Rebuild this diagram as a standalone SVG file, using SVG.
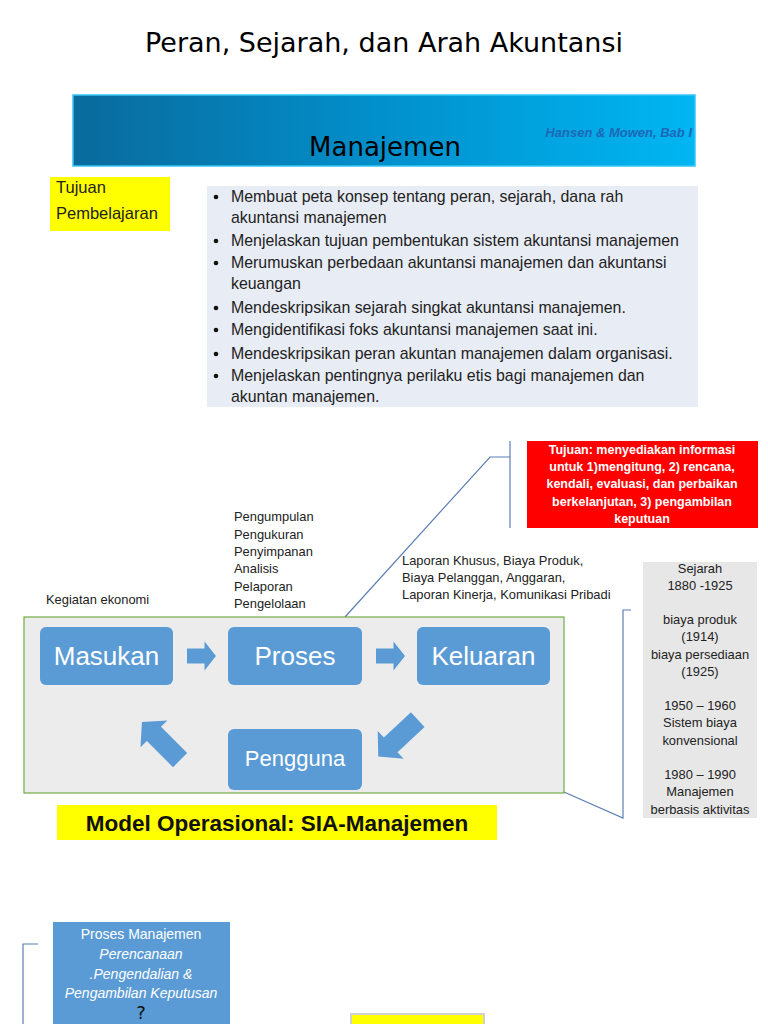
<svg xmlns="http://www.w3.org/2000/svg" width="768" height="1024" viewBox="0 0 768 1024">
<defs>
<linearGradient id="bannerGrad" x1="0" y1="0" x2="1" y2="0">
<stop offset="0" stop-color="#0a6a9c"/>
<stop offset="0.5" stop-color="#0290cc"/>
<stop offset="1" stop-color="#00b6f2"/>
</linearGradient>
<polygon id="harrow" points="-14.5,-7.5 3,-7.5 3,-14.5 14.5,0 3,14.5 3,7.5 -14.5,7.5"/>
<polygon id="darrow" points="-27,-10 10,-10 10,-19 27,0 10,19 10,10 -27,10"/>
</defs>
<style>
.t{font-family:"Liberation Sans",Arial,sans-serif;fill:#222}
.comic{font-family:"DejaVu Sans","Liberation Sans",sans-serif;fill:#000}
.box{fill:#5b9bd5}
.boxt{font-family:"Liberation Sans",Arial,sans-serif;fill:#fff;font-size:26px;text-anchor:middle}
.arr{fill:#5b9bd5}
.conn{fill:none;stroke:#5b7fb5;stroke-width:1.2}
.yel{fill:#ffff00}
</style>
<rect width="768" height="1024" fill="#fff"/>

<g id="title">
<text class="comic" x="384" y="52" font-size="27" text-anchor="middle">Peran, Sejarah, dan Arah Akuntansi</text>
</g>

<g id="banner">
<rect x="73" y="95" width="622" height="71" fill="url(#bannerGrad)" stroke="#33c6f5" stroke-width="1.5"/>
<text class="comic" x="385" y="156" font-size="26" text-anchor="middle">Manajemen</text>
<text x="692" y="137" font-family="Liberation Sans,Arial,sans-serif" font-size="13" font-weight="bold" font-style="italic" fill="#1f68b8" text-anchor="end">Hansen &amp; Mowen, Bab I</text>
</g>

<g id="tujuan">
<rect class="yel" x="50" y="177" width="120" height="54"/>
<text class="t" x="56" y="193" font-size="16.5" fill="#111">Tujuan</text>
<text class="t" x="56" y="219" font-size="16.5" fill="#111">Pembelajaran</text>
</g>

<g id="objectives">
<rect x="207" y="186" width="491" height="221" fill="#e8ecf5"/>
<g class="t" font-size="15.9" fill="#111">
<circle cx="216" cy="197" r="2.3" fill="#111"/>
<text x="231" y="202">Membuat peta konsep tentang peran, sejarah, dana rah</text>
<text x="231" y="223">akuntansi manajemen</text>
<circle cx="216" cy="241" r="2.3" fill="#111"/>
<text x="231" y="246">Menjelaskan tujuan pembentukan sistem akuntansi manajemen</text>
<circle cx="216" cy="263" r="2.3" fill="#111"/>
<text x="231" y="268">Merumuskan perbedaan akuntansi manajemen dan akuntansi</text>
<text x="231" y="289">keuangan</text>
<circle cx="216" cy="308" r="2.3" fill="#111"/>
<text x="231" y="313">Mendeskripsikan sejarah singkat akuntansi manajemen.</text>
<circle cx="216" cy="330" r="2.3" fill="#111"/>
<text x="231" y="335">Mengidentifikasi foks akuntansi manajemen saat ini.</text>
<circle cx="216" cy="354" r="2.3" fill="#111"/>
<text x="231" y="359">Mendeskripsikan peran akuntan manajemen dalam organisasi.</text>
<circle cx="216" cy="376" r="2.3" fill="#111"/>
<text x="231" y="381">Menjelaskan pentingnya perilaku etis bagi manajemen dan</text>
<text x="231" y="402">akuntan manajemen.</text>
</g>
</g>

<g id="connectors">
<polyline class="conn" points="345,617 490,457 510,457"/>
<line class="conn" x1="510" y1="441" x2="510" y2="528"/>
<polyline class="conn" points="564,792 623,818 623,610 631,610"/>
<polyline class="conn" points="38,944 23,944 23,1024"/>
</g>

<g id="tujuan-info">
<rect x="527" y="441" width="231" height="87" fill="#ff0000"/>
<g font-family="Liberation Sans,Arial,sans-serif" font-size="12.5" font-weight="bold" fill="#fff" text-anchor="middle">
<text x="642" y="454">Tujuan: menyediakan informasi</text>
<text x="642" y="471">untuk  1)mengitung, 2) rencana,</text>
<text x="642" y="488">kendali, evaluasi, dan perbaikan</text>
<text x="642" y="506">berkelanjutan, 3) pengambilan</text>
<text x="642" y="523">keputuan</text>
</g>
</g>

<g id="proses-list" class="t" font-size="12.9">
<text x="234" y="521">Pengumpulan</text>
<text x="234" y="539">Pengukuran</text>
<text x="234" y="556">Penyimpanan</text>
<text x="234" y="573">Analisis</text>
<text x="234" y="591">Pelaporan</text>
<text x="234" y="608">Pengelolaan</text>
</g>

<g id="keluaran-list" class="t" font-size="12.9">
<text x="402" y="565">Laporan Khusus, Biaya Produk,</text>
<text x="402" y="582">Biaya Pelanggan, Anggaran,</text>
<text x="402" y="599">Laporan Kinerja, Komunikasi Pribadi</text>
</g>

<g id="kegiatan">
<text class="t" x="46" y="604" font-size="12.9">Kegiatan ekonomi</text>
</g>

<g id="panel">
<rect x="24" y="617" width="540" height="176" fill="#ececec" stroke="#70ad47" stroke-width="1.2"/>
</g>

<g id="masukan">
<rect class="box" x="40" y="627" width="133" height="58" rx="6"/>
<text class="boxt" x="106.5" y="665">Masukan</text>
</g>
<g id="proses">
<rect class="box" x="228" y="627" width="134" height="58" rx="6"/>
<text class="boxt" x="295" y="665">Proses</text>
</g>
<g id="keluaran">
<rect class="box" x="417" y="627" width="133" height="58" rx="6"/>
<text class="boxt" x="483.5" y="665">Keluaran</text>
</g>
<g id="pengguna">
<rect class="box" x="228" y="729" width="134" height="61" rx="6"/>
<text class="boxt" x="295" y="766" style="font-size:22px">Pengguna</text>
</g>

<g id="flow-arrows">
<use href="#harrow" class="arr" transform="translate(201.5,656)"/>
<use href="#harrow" class="arr" transform="translate(390.5,656)"/>
<use href="#darrow" class="arr" transform="translate(398,738) rotate(137)"/>
<use href="#darrow" class="arr" transform="translate(161,741) rotate(225)"/>
</g>

<g id="sejarah">
<rect x="643" y="562" width="114" height="256" fill="#e7e7e7"/>
<g class="t" font-size="12.9" text-anchor="middle">
<text x="700" y="573">Sejarah</text>
<text x="700" y="590">1880 -1925</text>
<text x="700" y="624">biaya produk</text>
<text x="700" y="641">(1914)</text>
<text x="700" y="659">biaya persediaan</text>
<text x="700" y="676">(1925)</text>
<text x="700" y="710">1950 – 1960</text>
<text x="700" y="727">Sistem biaya</text>
<text x="700" y="745">konvensional</text>
<text x="700" y="779">1980 – 1990</text>
<text x="700" y="796">Manajemen</text>
<text x="700" y="814">berbasis aktivitas</text>
</g>
</g>

<g id="model-label">
<rect class="yel" x="57" y="805" width="440" height="35"/>
<text x="277" y="831" font-family="Liberation Sans,Arial,sans-serif" font-size="22.5" font-weight="bold" fill="#111" text-anchor="middle">Model Operasional: SIA-Manajemen</text>
</g>

<g id="proses-manajemen">
<rect x="53" y="922" width="177" height="110" fill="#5b9bd5"/>
<g font-family="Liberation Sans,Arial,sans-serif" font-size="14" fill="#fff" text-anchor="middle">
<text x="141" y="939">Proses Manajemen</text>
<text x="141" y="959" font-style="italic">Perencanaan</text>
<text x="141" y="979" font-style="italic">.Pengendalian &amp;</text>
<text x="141" y="998" font-style="italic">Pengambilan Keputusan</text>
</g>
<text x="141" y="1019" font-family="DejaVu Sans,sans-serif" font-size="18" fill="#111" text-anchor="middle">?</text>
</g>

<g id="bottom-yellow">
<rect x="351" y="1014" width="133" height="14" fill="#ffff00" stroke="#d0d0d0" stroke-width="2"/>
</g>
</svg>
